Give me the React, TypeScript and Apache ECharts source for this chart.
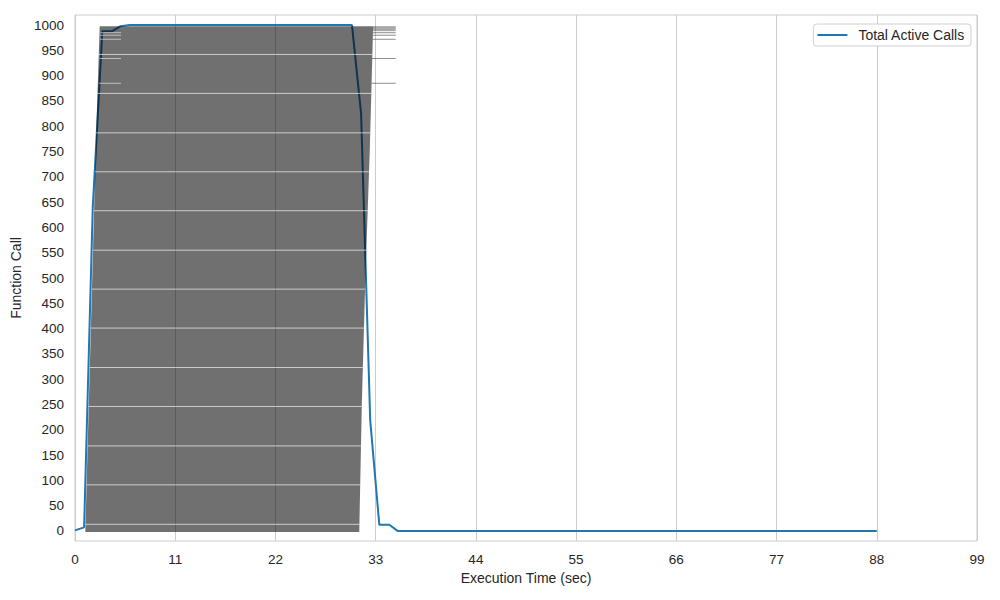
import React, { useEffect, useRef } from 'react'
import * as echarts from 'echarts'

// Total Active Calls: sample time (sec) and number of calls in flight
const activeTimes = [0, 1.0, 1.95, 3.0, 4.1, 5.0, 6.0, 30.4, 31.4, 32.4, 33.4, 34.5, 35.4, 88]
const activeCalls = [1, 7, 640, 988, 988, 998, 1000, 1000, 825, 219, 12, 12, 0, 0]

// outline of the per-call lifetime bars (call index -> start / end time)
const startRows = [-2, 400, 800, 998]
const startTimes = [1.13, 1.74, 2.35, 2.71]
const endRows = [-2, 250, 500, 750, 998]
const endTimes = [31.2, 31.48, 31.87, 32.35, 32.72]

// a few late calls that start and finish after all the others
const lateRows = [885, 934, 972, 980, 985]
const lateBandRows = [988, 998]
const lateStart = 5.05
const lateEnd = 35.2

// rows left blank where the rasterised lines do not overlap
const gapRows = [13, 91, 168, 246, 323, 401, 478, 555, 633, 710, 787, 865, 942]

const xTicks = [0, 11, 22, 33, 44, 55, 66, 77, 88, 99]
const yTicks = [0, 50, 100, 150, 200, 250, 300, 350, 400, 450, 500, 550, 600, 650, 700, 750, 800, 850, 900, 950, 1000]

const FONT = '"Liberation Sans", Arial, sans-serif'
const TEXT = '#262626'
const GRID = '#cccccc'

// time of an outline at a given row
function edgeAt(rows: number[], times: number[], row: number): number {
  for (let i = 1; i < rows.length; i++) {
    if (row <= rows[i]) {
      const t = (row - rows[i - 1]) / (rows[i] - rows[i - 1])
      return times[i - 1] + t * (times[i] - times[i - 1])
    }
  }
  return times[times.length - 1]
}

export default function App(): JSX.Element {
  const ref = useRef<HTMLDivElement>(null)

  useEffect(() => {
    if (!ref.current) return
    const chart = echarts.init(ref.current, null, { renderer: 'svg' })

    const lineData = activeTimes.map((t, i) => [t, activeCalls[i]])

    chart.setOption({
      animation: false,
      textStyle: { fontFamily: FONT, color: TEXT },
      grid: {
        left: 75, right: 23, top: 15, bottom: 59,
        show: true, borderColor: GRID, borderWidth: 1, backgroundColor: '#ffffff',
      },
      legend: {
        top: 24, right: 29,
        padding: [4, 6, 4, 4],
        itemWidth: 30, itemHeight: 14,
        backgroundColor: '#ffffff',
        borderColor: '#d0d0d0', borderWidth: 1, borderRadius: 3,
        textStyle: { fontFamily: FONT, fontSize: 14, color: TEXT, padding: [0, 0, 0, 6] },
        data: [{ name: 'Total Active Calls', icon: 'path://M0,0h30v2h-30z' }],
      },
      xAxis: {
        type: 'value',
        min: xTicks[0], max: xTicks[xTicks.length - 1], interval: 11,
        name: 'Execution Time (sec)',
        nameLocation: 'middle', nameGap: 27,
        nameTextStyle: { fontFamily: FONT, fontSize: 14, color: TEXT },
        axisLine: { show: false },
        axisTick: { show: false },
        axisLabel: { fontFamily: FONT, fontSize: 13.5, color: TEXT, margin: 11 },
        splitLine: { show: true, lineStyle: { color: GRID, width: 1 } },
      },
      yAxis: {
        type: 'value',
        min: -20, max: 1020,
        name: 'Function Call',
        nameLocation: 'middle', nameGap: 44,
        nameTextStyle: { fontFamily: FONT, fontSize: 14, color: TEXT },
        axisLine: { show: false },
        axisTick: { show: false },
        axisLabel: {
          fontFamily: FONT, fontSize: 13.5, color: TEXT, margin: 11,
          customValues: yTicks,
          formatter: (v: number) => String(v),
        },
        splitLine: { show: false },
      },
      series: [
        {
          name: 'Total Active Calls',
          type: 'line',
          data: lineData,
          symbol: 'none',
          showSymbol: false,
          z: 2,
          lineStyle: { color: '#1f77b4', width: 2 },
          itemStyle: { color: '#1f77b4' },
        },
        {
          name: 'calls',
          type: 'custom',
          silent: true,
          z: 3,
          data: [[0, 0]],
          renderItem: (_params: any, api: any) => {
            const pt = (x: number, y: number) => api.coord([x, y])
            const left = startRows.map((r, i) => pt(startTimes[i], r))
            const right = endRows.map((r, i) => pt(endTimes[i], r)).reverse()
            const children: any[] = [
              {
                type: 'polygon',
                shape: { points: [...left, ...right] },
                style: { fill: 'rgba(0,0,0,0.56)' },
              },
            ]
            gapRows.forEach((r) => {
              const a = pt(edgeAt(startRows, startTimes, r), r)
              const b = pt(edgeAt(endRows, endTimes, r), r)
              children.push({
                type: 'line',
                shape: { x1: a[0], y1: a[1], x2: b[0], y2: b[1] },
                style: { stroke: 'rgba(255,255,255,0.65)', lineWidth: 1 },
              })
            })
            // late calls: blank before their start, grey past the others' end
            const b0 = pt(edgeAt(endRows, endTimes, lateBandRows[0]), lateBandRows[0])
            const b1 = pt(lateEnd, lateBandRows[1])
            children.push({
              type: 'rect',
              shape: { x: b0[0], y: b1[1], width: b1[0] - b0[0], height: b0[1] - b1[1] },
              style: { fill: 'rgba(0,0,0,0.34)' },
            })
            lateRows.forEach((r) => {
              const a = pt(edgeAt(startRows, startTimes, r), r)
              const s = pt(lateStart, r)
              children.push({
                type: 'line',
                shape: { x1: a[0] + 1, y1: a[1], x2: s[0], y2: s[1] },
                style: { stroke: 'rgba(255,255,255,0.55)', lineWidth: 1 },
              })
              const e0 = pt(edgeAt(endRows, endTimes, r), r)
              const e1 = pt(lateEnd, r)
              children.push({
                type: 'line',
                shape: { x1: e0[0], y1: e0[1], x2: e1[0], y2: e1[1] },
                style: { stroke: 'rgba(0,0,0,0.45)', lineWidth: 1 },
              })
            })
            return { type: 'group', children }
          },
        },
      ],
    })

    return () => chart.dispose()
  }, [])

  return (
    <div
      ref={ref}
      style={{ position: 'fixed', left: 0, top: 0, width: 1000, height: 600, background: '#ffffff' }}
    />
  )
}
